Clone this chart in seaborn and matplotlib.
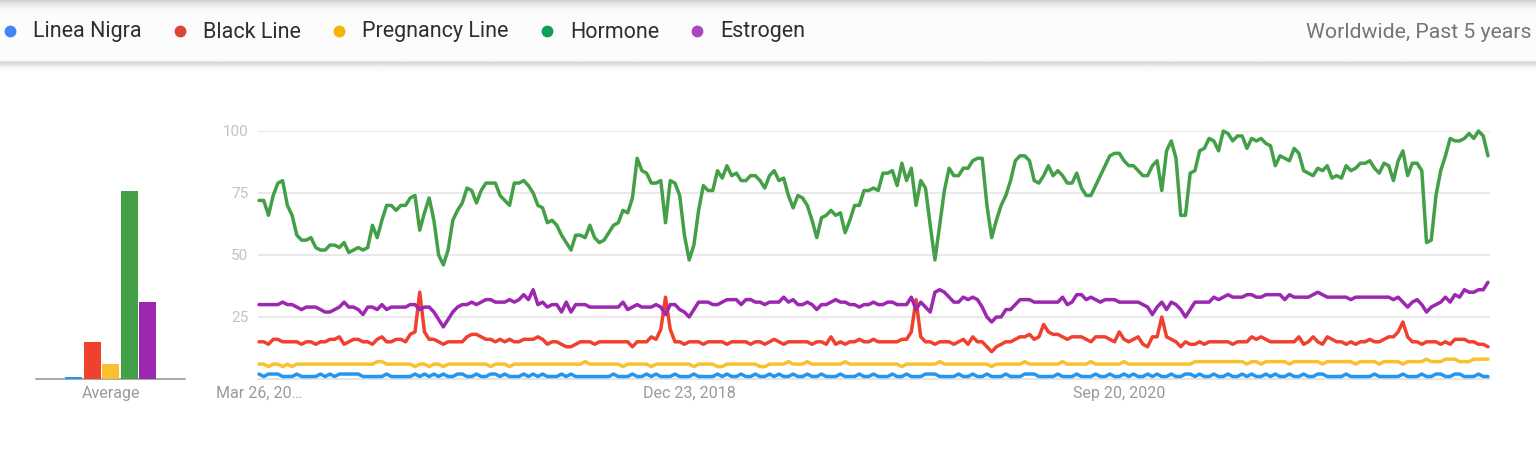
import numpy as np
import pandas as pd
import matplotlib.pyplot as plt
import seaborn as sns
from matplotlib.lines import Line2D

# weekly Google Trends interest, Mar 26 2017 .. Mar 20 2022 (rows of 10 weeks)
start_date = "2017-03-26"

hormone = [
    72, 72, 66, 74, 79, 80, 70, 66, 58, 56,
    56, 57, 53, 52, 52, 54, 54, 53, 55, 51,
    52, 53, 52, 53, 62, 57, 64, 70, 70, 68,
    70, 70, 73, 74, 60, 67, 73, 64, 50, 46,
    52, 64, 68, 71, 77, 76, 71, 76, 79, 79,
    79, 74, 72, 70, 79, 79, 80, 78, 75, 70,
    69, 63, 64, 62, 58, 55, 52, 58, 58, 57,
    62, 57, 55, 56, 59, 62, 63, 68, 67, 73,
    89, 84, 83, 79, 79, 80, 63, 80, 79, 74,
    58, 48, 54, 68, 78, 76, 76, 84, 81, 86,
    82, 83, 80, 80, 82, 82, 80, 77, 82, 84,
    80, 81, 74, 69, 74, 73, 70, 64, 57, 65,
    66, 68, 66, 67, 59, 64, 70, 70, 76, 76,
    77, 76, 83, 83, 84, 78, 87, 80, 85, 70,
    80, 77, 62, 48, 62, 76, 85, 82, 82, 85,
    85, 88, 89, 89, 70, 57, 64, 70, 74, 80,
    88, 90, 90, 88, 80, 79, 82, 86, 82, 84,
    82, 79, 79, 83, 77, 74, 74, 78, 82, 86,
    90, 91, 91, 88, 86, 86, 84, 82, 82, 86,
    88, 76, 92, 96, 89, 66, 66, 83, 84, 92,
    93, 97, 96, 92, 100, 99, 96, 98, 98, 93,
    97, 96, 97, 95, 94, 86, 90, 89, 88, 93,
    91, 84, 83, 82, 85, 84, 86, 81, 82, 81,
    86, 84, 85, 87, 87, 88, 85, 83, 87, 86,
    80, 88, 92, 82, 87, 87, 84, 55, 56, 74,
    84, 90, 97, 96, 96, 97, 99, 97, 100, 98,
    90,
]

estrogen = [
    30, 30, 30, 30, 30, 31, 30, 30, 29, 28,
    29, 29, 29, 28, 27, 27, 28, 29, 31, 29,
    29, 28, 26, 29, 29, 28, 30, 28, 29, 29,
    29, 29, 30, 30, 28, 29, 29, 27, 24, 21,
    24, 27, 29, 30, 30, 31, 30, 31, 32, 32,
    31, 31, 31, 32, 31, 32, 34, 32, 36, 30,
    31, 29, 30, 30, 27, 31, 27, 30, 30, 30,
    29, 29, 29, 29, 29, 29, 29, 31, 28, 29,
    30, 29, 29, 29, 30, 29, 26, 30, 30, 28,
    27, 25, 28, 31, 31, 31, 30, 30, 31, 32,
    32, 32, 30, 32, 32, 31, 31, 30, 31, 31,
    31, 33, 31, 32, 30, 30, 31, 30, 28, 30,
    30, 31, 32, 31, 31, 30, 30, 29, 30, 30,
    31, 30, 30, 31, 31, 30, 30, 30, 33, 28,
    31, 29, 27, 35, 36, 35, 33, 31, 31, 33,
    32, 33, 32, 29, 25, 23, 25, 25, 28, 28,
    30, 32, 32, 32, 31, 31, 31, 31, 31, 31,
    33, 30, 31, 34, 34, 32, 33, 32, 31, 32,
    32, 32, 31, 31, 31, 31, 31, 30, 29, 26,
    29, 31, 28, 31, 30, 28, 25, 28, 31, 31,
    31, 31, 33, 32, 33, 34, 33, 33, 33, 34,
    34, 33, 33, 34, 34, 34, 34, 32, 34, 33,
    33, 33, 33, 34, 35, 34, 33, 33, 33, 33,
    33, 32, 33, 33, 33, 33, 33, 33, 33, 33,
    32, 33, 31, 29, 31, 32, 30, 27, 29, 30,
    31, 33, 31, 34, 33, 36, 35, 35, 36, 36,
    39,
]

black_line = [
    15, 15, 14, 16, 16, 15, 15, 15, 15, 14,
    15, 15, 14, 15, 15, 16, 16, 17, 14, 15,
    16, 16, 15, 15, 14, 16, 17, 15, 15, 16,
    16, 15, 18, 19, 35, 19, 16, 16, 15, 14,
    15, 15, 15, 15, 17, 18, 18, 17, 16, 16,
    15, 16, 15, 16, 15, 15, 16, 16, 16, 17,
    16, 14, 15, 15, 14, 13, 13, 14, 15, 15,
    15, 14, 15, 15, 15, 15, 15, 15, 15, 13,
    15, 15, 15, 17, 16, 20, 33, 20, 15, 15,
    14, 15, 15, 15, 14, 15, 15, 15, 15, 14,
    15, 15, 15, 15, 14, 15, 15, 14, 15, 16,
    15, 14, 15, 15, 15, 15, 15, 14, 15, 15,
    14, 17, 14, 15, 14, 15, 15, 16, 15, 15,
    16, 15, 15, 15, 15, 15, 16, 16, 19, 32,
    17, 15, 15, 14, 15, 15, 15, 14, 15, 16,
    14, 17, 15, 15, 13, 11, 13, 14, 15, 15,
    16, 17, 17, 18, 16, 17, 22, 19, 18, 18,
    17, 16, 17, 17, 17, 16, 15, 17, 17, 17,
    16, 15, 19, 16, 15, 16, 17, 14, 13, 17,
    17, 25, 17, 16, 15, 13, 15, 14, 14, 15,
    14, 15, 15, 15, 15, 15, 14, 15, 15, 15,
    17, 16, 17, 16, 15, 15, 15, 15, 15, 15,
    17, 14, 15, 17, 15, 14, 17, 16, 15, 15,
    14, 15, 14, 15, 15, 16, 15, 15, 16, 17,
    17, 19, 23, 17, 15, 15, 14, 15, 15, 15,
    14, 15, 14, 16, 16, 16, 15, 15, 14, 14,
    13,
]

pregnancy_line = [
    6, 6, 5, 6, 6, 5, 6, 5, 6, 6,
    6, 6, 6, 6, 6, 6, 6, 6, 6, 6,
    6, 6, 6, 6, 6, 7, 7, 6, 6, 6,
    6, 6, 6, 5, 6, 6, 5, 6, 6, 5,
    6, 6, 6, 6, 6, 6, 6, 6, 6, 5,
    6, 6, 6, 5, 6, 6, 6, 6, 6, 6,
    6, 6, 6, 6, 6, 6, 6, 6, 6, 7,
    6, 6, 6, 6, 6, 6, 6, 5, 6, 6,
    6, 6, 6, 5, 6, 6, 6, 6, 6, 6,
    6, 6, 5, 6, 6, 6, 6, 5, 5, 6,
    6, 6, 6, 6, 6, 6, 5, 5, 6, 6,
    6, 6, 7, 6, 6, 6, 7, 6, 6, 6,
    6, 6, 6, 6, 7, 6, 6, 6, 6, 6,
    6, 6, 6, 6, 6, 6, 5, 6, 6, 6,
    6, 6, 6, 6, 7, 6, 6, 6, 6, 6,
    6, 6, 6, 6, 6, 5, 6, 6, 6, 6,
    6, 6, 7, 6, 6, 6, 6, 6, 6, 6,
    7, 6, 6, 6, 6, 6, 7, 6, 6, 6,
    6, 6, 6, 7, 6, 6, 6, 6, 6, 6,
    6, 6, 6, 6, 6, 6, 6, 6, 7, 7,
    7, 7, 7, 7, 7, 7, 7, 7, 7, 6,
    7, 7, 6, 7, 7, 7, 7, 7, 6, 7,
    7, 7, 7, 7, 7, 6, 7, 7, 7, 7,
    7, 7, 6, 7, 7, 7, 7, 6, 7, 7,
    7, 7, 6, 7, 7, 7, 7, 8, 7, 7,
    7, 8, 8, 8, 7, 7, 7, 8, 8, 8,
    8,
]

linea_nigra = [
    2, 1, 2, 2, 2, 1, 1, 1, 2, 1,
    1, 1, 1, 2, 1, 2, 1, 2, 2, 2,
    2, 2, 1, 1, 1, 1, 1, 2, 1, 1,
    1, 1, 1, 2, 1, 2, 1, 2, 1, 2,
    1, 1, 2, 2, 1, 1, 2, 1, 1, 2,
    2, 1, 2, 1, 1, 1, 2, 1, 2, 1,
    2, 1, 1, 1, 2, 1, 2, 1, 1, 1,
    1, 1, 1, 1, 1, 2, 1, 1, 1, 2,
    1, 1, 2, 1, 2, 1, 1, 1, 2, 1,
    1, 1, 2, 1, 1, 1, 1, 2, 1, 2,
    1, 1, 2, 1, 1, 2, 1, 1, 2, 1,
    2, 1, 1, 2, 1, 1, 2, 1, 1, 2,
    1, 1, 1, 2, 1, 1, 1, 2, 1, 1,
    2, 1, 1, 1, 2, 1, 1, 2, 1, 1,
    1, 2, 2, 2, 1, 1, 1, 1, 2, 1,
    1, 2, 1, 1, 2, 1, 1, 1, 2, 1,
    1, 1, 2, 2, 2, 1, 1, 1, 1, 2,
    1, 1, 1, 2, 1, 1, 1, 2, 1, 1,
    2, 1, 1, 2, 1, 2, 1, 1, 2, 1,
    2, 1, 1, 2, 1, 1, 2, 2, 1, 2,
    1, 1, 2, 1, 1, 2, 1, 1, 2, 1,
    2, 1, 1, 2, 1, 2, 1, 1, 2, 1,
    1, 2, 1, 1, 2, 2, 1, 1, 1, 1,
    2, 1, 1, 1, 1, 1, 2, 1, 1, 1,
    1, 1, 2, 1, 1, 1, 2, 1, 1, 2,
    2, 1, 1, 2, 2, 1, 1, 1, 2, 1,
    1,
]

terms = ["Linea Nigra", "Black Line", "Pregnancy Line", "Hormone", "Estrogen"]
averages = [1, 15, 6, 76, 31]
line_colors = ["#2196f3", "#f0412f", "#fbc02d", "#43a047", "#9c27b0"]
dot_colors = ["#4285f4", "#db4437", "#f4b400", "#0f9d58", "#ab47bc"]
tick_dates = ["2017-03-26", "2018-12-23", "2020-09-20"]
tick_labels = ["Mar 26, 20\u2026", "Dec 23, 2018", "Sep 20, 2020"]

series = [linea_nigra, black_line, pregnancy_line, hormone, estrogen]
frames = []
for term, vals in zip(terms, series):
    frames.append(pd.DataFrame({
        "date": pd.date_range(start_date, periods=len(vals), freq="7D"),
        "value": vals,
        "term": term,
    }))
df = pd.concat(frames, ignore_index=True)

sns.set_theme(style="white")
plt.rcParams['font.family'] = ['Roboto', 'DejaVu Sans']

W, H = 1536, 457
fig = plt.figure(figsize=(W / 100, H / 100), dpi=100)
fig.patch.set_facecolor("white")

# header bar with soft shadows
hdr = fig.add_axes([0, 1 - 72 / H, 1, 72 / H])
rows = np.arange(72)
shade = np.interp(rows, [0, 3, 9, 14, 60, 62, 64, 67, 72],
                  [0.80, 0.88, 0.97, 0.985, 0.985, 0.84, 0.89, 0.97, 1.0])
hdr.imshow(np.repeat(shade[:, None], 2, axis=1), cmap="gray", vmin=0, vmax=1,
           aspect="auto", extent=[0, 1, 1, 0], interpolation="bilinear")
hdr.set_axis_off()

legend_x = [10, 180, 339, 547, 697]
for term, col, x in zip(terms, dot_colors, legend_x):
    fig.add_artist(Line2D([x / W], [1 - 31 / H], marker="o", ms=7.5, color=col,
                          mec=col, transform=fig.transFigure))
    fig.text((x + 23) / W, 1 - 32 / H, term, fontsize=15.5, color="#2e2e2e",
             ha="left", va="center")
fig.text(1532 / W, 1 - 32 / H, "Worldwide, Past 5 years", fontsize=15.3,
         color="#757575", ha="right", va="center")

# main time series
ax = fig.add_axes([258 / W, 1 - 379 / H, (1490 - 258) / W, (379 - 131) / H])
sns.lineplot(data=df, x="date", y="value", hue="term", hue_order=terms,
             palette=line_colors, lw=2.5, legend=False, ax=ax)
for ln in ax.get_lines():
    ln.set_clip_on(False)
    ln.set_solid_joinstyle("round")
ax.set_ylim(0, 100)
d0 = df["date"].min()
d1 = df["date"].max()
ax.set_xlim(d0 - pd.Timedelta(days=1.5), d1 + pd.Timedelta(days=3))
for yv in [25, 50, 75, 100]:
    ax.axhline(yv, color="#e3e3e3", lw=1.1, zorder=0)
ax.axhline(0, color="#dcdcdc", lw=1.1, zorder=0, clip_on=False)
sns.despine(ax=ax, left=True, bottom=True)
ax.set_yticks([25, 50, 75, 100])
ax.set_yticklabels(["25", "50", "75", "100"])
ax.set_xticks(pd.to_datetime(tick_dates))
ax.set_xticklabels(tick_labels)
ax.tick_params(axis="y", length=0, pad=7, labelsize=11, labelcolor="#c2c2c2")
ax.tick_params(axis="x", length=0, pad=5, labelsize=11.5, labelcolor="#9a9a9a")
ax.set_xlabel("")
ax.set_ylabel("")
ax.set_facecolor("none")

# averages
ax2 = fig.add_axes([36 / W, 1 - 379 / H, 149 / W, (379 - 131) / H])
sns.barplot(x=terms, y=averages, hue=terms, palette=line_colors, width=0.92,
            legend=False, ax=ax2, saturation=1, linewidth=0)
ax2.set_ylim(0, 100)
ax2.set_xlim(-2.05, 6.0)
ax2.axhline(0, color="#a0a0a0", lw=1.3, zorder=1, clip_on=False)
sns.despine(ax=ax2, left=True, bottom=True)
ax2.set_yticks([])
ax2.set_xticks([2])
ax2.set_xticklabels(["Average"])
ax2.tick_params(axis="x", length=0, pad=5, labelsize=11.5, labelcolor="#9a9a9a")
ax2.set_facecolor("none")
for p in ax2.patches:
    p.set_clip_on(False)
    p.set_zorder(2)

fig.savefig("out.png", dpi=100)
